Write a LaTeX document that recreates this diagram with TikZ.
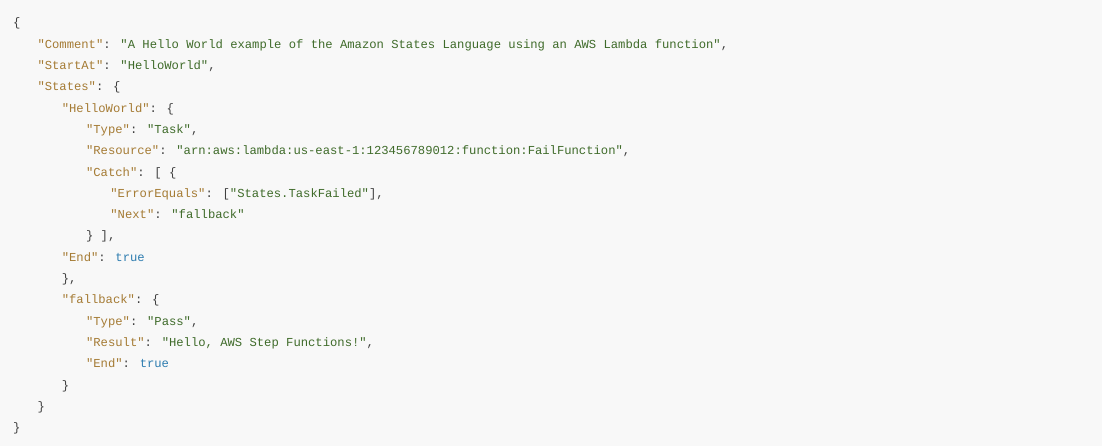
\documentclass[tikz,border=0pt]{standalone}
\usepackage{fontspec}
\newfontfamily\codefont{Liberation Mono}
\definecolor{bgc}{HTML}{F8F8F8}
\definecolor{keyc}{HTML}{A57B34}
\definecolor{strc}{HTML}{3F6B2A}
\definecolor{boolc}{HTML}{2E7DB0}
\definecolor{punc}{HTML}{404040}
\newcommand{\Kx}[1]{\textcolor{keyc}{"#1"}}
\newcommand{\Sx}[1]{\textcolor{strc}{"#1"}}
\newcommand{\Tx}{\textcolor{boolc}{true}}
\tikzset{codeline/.style={anchor=base west,inner sep=0pt,font=\codefont\fontsize{12.2}{14}\selectfont,text=punc}}
\begin{document}
\begin{tikzpicture}[x=1pt,y=-1pt]
\fill[bgc] (0,0) rectangle (1102,446);
\useasboundingbox (0,0) rectangle (1102,446);
\def\L#1#2#3{\node[codeline] (l#1) at ({13+24.3*#2},{27+21.3*#1}) {#3};}
\L{0}{0}{\{}
\L{1}{1}{\Kx{Comment}: \Sx{A Hello World example of the Amazon States Language using an AWS Lambda function},}
\L{2}{1}{\Kx{StartAt}: \Sx{HelloWorld},}
\L{3}{1}{\Kx{States}: \{}
\L{4}{2}{\Kx{HelloWorld}: \{}
\L{5}{3}{\Kx{Type}: \Sx{Task},}
\L{6}{3}{\Kx{Resource}: \Sx{arn:aws:lambda:us-east-1:123456789012:function:FailFunction},}
\L{7}{3}{\Kx{Catch}: [ \{}
\L{8}{4}{\Kx{ErrorEquals}: [\Sx{States.TaskFailed}],}
\L{9}{4}{\Kx{Next}: \Sx{fallback}}
\L{10}{3}{\} ],}
\L{11}{2}{\Kx{End}: \Tx}
\L{12}{2}{\},}
\L{13}{2}{\Kx{fallback}: \{}
\L{14}{3}{\Kx{Type}: \Sx{Pass},}
\L{15}{3}{\Kx{Result}: \Sx{Hello, AWS Step Functions!},}
\L{16}{3}{\Kx{End}: \Tx}
\L{17}{2}{\}}
\L{18}{1}{\}}
\L{19}{0}{\}}
\end{tikzpicture}
\end{document}
